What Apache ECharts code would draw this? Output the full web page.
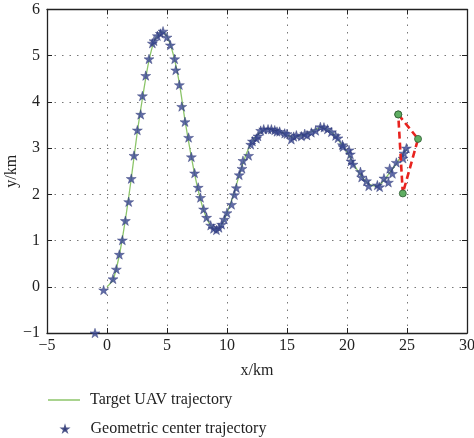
<!DOCTYPE html>
<html>
<head>
<meta charset="utf-8">
<script src="https://cdn.jsdelivr.net/npm/echarts@6/dist/echarts.min.js"></script>
<style>
html, body { margin: 0; padding: 0; background: #fff; }
#main { width: 474px; height: 438px; }
</style>
</head>
<body>
<div id="main"></div>
<script>
// geometric centre trajectory (stars)
var starX = [-1, -0.28, 0.5, 0.78, 1.03, 1.28, 1.53, 1.81, 2.02, 2.25, 2.53, 2.81, 2.95, 3.23, 3.5, 3.78, 3.92, 4.2, 4.45, 4.67,
  5.0, 5.28, 5.64, 5.73, 6.03, 6.23, 6.5, 6.8, 7.03, 7.3, 7.6, 7.79, 8.05, 8.3, 8.64, 8.88, 9.12, 9.33, 9.55, 9.78,
  10.0, 10.38, 10.62, 10.78, 11.02, 11.25, 11.33, 11.8, 11.98, 12.12, 12.45, 12.58, 12.81, 13.06, 13.42, 13.7, 13.98, 14.17, 14.39, 14.81,
  15.0, 15.36, 15.56, 15.78, 16.2, 16.48, 16.67, 17.03, 17.39, 17.78, 18.08, 18.37, 18.7, 19.05, 19.25, 19.62, 19.67, 20.17, 20.28, 20.33,
  20.5, 21.12, 21.22, 21.62, 21.81, 22.53, 22.72, 23.08, 23.45, 23.56, 23.78, 24.11, 24.67, 24.75, 24.95];
var starY = [-1, -0.07, 0.17, 0.38, 0.70, 1.01, 1.43, 1.84, 2.34, 2.84, 3.39, 3.73, 4.13, 4.57, 4.93, 5.27, 5.32, 5.43, 5.48, 5.53,
  5.40, 5.23, 4.93, 4.69, 4.37, 3.90, 3.57, 3.23, 2.81, 2.46, 2.15, 1.93, 1.68, 1.50, 1.33, 1.26, 1.23, 1.28, 1.35, 1.46,
  1.60, 1.78, 1.99, 2.14, 2.42, 2.56, 2.73, 2.84, 3.08, 3.15, 3.21, 3.26, 3.38, 3.41, 3.41, 3.41, 3.39, 3.36, 3.36, 3.32,
  3.31, 3.19, 3.25, 3.28, 3.26, 3.31, 3.28, 3.34, 3.38, 3.46, 3.45, 3.41, 3.35, 3.27, 3.22, 3.07, 3.03, 2.96, 2.87, 2.72,
  2.65, 2.49, 2.37, 2.29, 2.18, 2.20, 2.16, 2.35, 2.26, 2.56, 2.45, 2.69, 2.78, 2.89, 3.0];

// target UAV trajectory (green line)
var targetX = [0, 0.5, 1, 1.5, 2, 2.5, 3, 3.5, 4, 4.6, 5, 5.5, 6, 6.5, 7, 7.5, 8, 8.5, 9, 9.5, 10, 10.5, 11, 11.5, 12, 12.5,
  13, 13.5, 14, 14.5, 15, 15.5, 16, 16.5, 17, 17.5, 18, 18.5, 19, 19.5, 20, 20.5, 21, 21.5, 22, 22.5, 23, 23.5, 24, 24.5, 25];
var targetY = [0, 0.15, 0.65, 1.4, 2.3, 3.3, 4.15, 4.9, 5.35, 5.52, 5.42, 5.05, 4.45, 3.6, 2.85, 2.2, 1.7, 1.38, 1.24, 1.32, 1.6, 1.95, 2.4, 2.8, 3.1, 3.28,
  3.38, 3.41, 3.39, 3.35, 3.28, 3.24, 3.26, 3.3, 3.35, 3.42, 3.45, 3.38, 3.27, 3.1, 2.92, 2.68, 2.47, 2.3, 2.2, 2.18, 2.28, 2.45, 2.62, 2.82, 2.98];

// UAV formation (triangle, closed)
var uavX = [24.27, 25.92, 24.65, 24.27];
var uavY = [3.73, 3.2, 2.02, 3.73];

var xTicks = [-5, 0, 5, 10, 15, 20, 25, 30];
var yTicks = [-1, 0, 1, 2, 3, 4, 5, 6];

var serif = 'Liberation Serif';
var starPath = 'path://M50,0 L61,35 L98,35 L68,57 L79,91 L50,70 L21,91 L32,57 L2,35 L39,35 Z';

function pairs(xs, ys) {
  return xs.map(function (x, i) { return [x, ys[i]]; });
}
function minus(v) { return String(v).replace('-', '\u2212'); }

var chart = echarts.init(document.getElementById('main'));

var baseAxis = {
  type: 'value',
  axisLine: { onZero: false, lineStyle: { color: '#222', width: 1.3 } },
  axisTick: { inside: true, length: 5, lineStyle: { color: '#222' } },
  splitLine: { show: false }
};

var option = {
  backgroundColor: '#fff',
  animation: false,
  grid: { left: 47, right: 7, top: 9.5, bottom: 105, containLabel: false, outerBoundsMode: 'none' },
  xAxis: [
    Object.assign({}, baseAxis, {
      min: xTicks[0], max: xTicks[xTicks.length - 1], interval: 5,
      position: 'bottom',
      name: 'x/km', nameLocation: 'middle', nameGap: 30,
      nameTextStyle: { fontFamily: serif, fontSize: 16, color: '#222' },
      axisLabel: { fontFamily: serif, fontSize: 16, color: '#222', margin: 5, formatter: minus },
      splitLine: { show: true, lineStyle: { type: [1.5, 6], color: '#777', width: 1 } }
    }),
    Object.assign({}, baseAxis, {
      min: xTicks[0], max: xTicks[xTicks.length - 1], interval: 5,
      position: 'top', axisLabel: { show: false }
    })
  ],
  yAxis: [
    Object.assign({}, baseAxis, {
      min: yTicks[0], max: yTicks[yTicks.length - 1], interval: 1,
      position: 'left',
      name: 'y/km', nameLocation: 'middle', nameGap: 27, nameRotate: 90, nameMoveOverlap: false,
      nameTextStyle: { fontFamily: serif, fontSize: 16, color: '#222' },
      axisLabel: { fontFamily: serif, fontSize: 16, color: '#222', margin: 7, formatter: minus },
      splitLine: { show: true, lineStyle: { type: [1.5, 6], color: '#777', width: 1 } }
    }),
    Object.assign({}, baseAxis, {
      min: yTicks[0], max: yTicks[yTicks.length - 1], interval: 1,
      position: 'right', axisLabel: { show: false }
    })
  ],
  legend: [
    {
      orient: 'vertical', left: 43, top: 387,
      itemWidth: 32, itemHeight: 1.5,
      textStyle: { fontFamily: serif, fontSize: 16, color: '#222', padding: [0, 0, 0, 5] },
      data: [{ name: 'Target UAV trajectory', icon: 'rect' }]
    },
    {
      orient: 'vertical', left: 56.5, top: 416,
      itemWidth: 5, itemHeight: 5,
      textStyle: { fontFamily: serif, fontSize: 16, color: '#222', padding: [0, 0, 0, 18] },
      data: [{ name: 'Geometric center trajectory', icon: starPath }]
    }
  ],
  series: [
    {
      name: 'Target UAV trajectory',
      type: 'line',
      smooth: 0.3,
      symbol: 'none',
      lineStyle: { color: '#8cc56a', width: 1.3 },
      itemStyle: { color: '#8cc56a' },
      data: pairs(targetX, targetY),
      z: 2
    },
    {
      name: 'Geometric center trajectory',
      type: 'scatter',
      symbol: starPath,
      symbolSize: 10,
      symbolKeepAspect: true,
      itemStyle: { color: '#3a4792', borderColor: '#262f6e', borderWidth: 0.5 },
      data: pairs(starX, starY),
      z: 3
    },
    {
      name: 'UAV formation',
      type: 'line',
      symbol: 'circle',
      symbolSize: 7,
      itemStyle: { color: '#5fae62', borderColor: '#2f5a33', borderWidth: 0.8 },
      lineStyle: { color: '#e8231f', width: 2.6, type: [7, 4] },
      data: pairs(uavX, uavY),
      z: 4
    }
  ]
};

chart.setOption(option);
</script>
</body>
</html>
